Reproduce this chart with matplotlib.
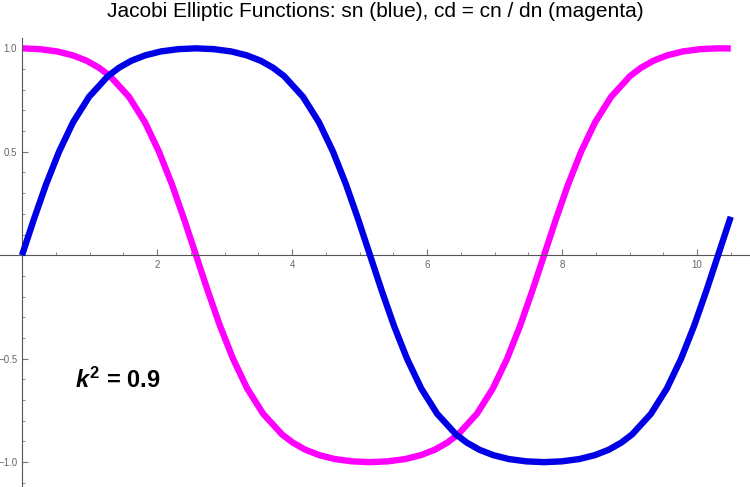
import matplotlib
matplotlib.use("Agg")
import matplotlib.pyplot as plt
from matplotlib.ticker import MultipleLocator

plt.rcParams["font.family"] = ["Liberation Sans", "DejaVu Sans"]
plt.rcParams["mathtext.fontset"] = "custom"
plt.rcParams["mathtext.it"] = "Liberation Sans:bold:italic"
plt.rcParams["mathtext.bf"] = "Liberation Sans:bold"
plt.rcParams["mathtext.rm"] = "Liberation Sans:bold"

# sn(u | k^2 = 0.9)
sn_x = [0, .176, .356, .548, .757, .994, 1.274, 1.436, 1.620, 1.825, 2.057, 2.313, 2.578,
        2.843, 3.099, 3.331, 3.536, 3.720, 3.882, 4.162, 4.399, 4.608, 4.800, 4.980, 5.156,
        5.332, 5.512, 5.704, 5.913, 6.150, 6.430, 6.592, 6.776, 6.981, 7.213, 7.469, 7.734,
        7.999, 8.255, 8.487, 8.692, 8.876, 9.038, 9.318, 9.555, 9.764, 9.956, 10.136, 10.312,
        10.5]
sn_y = [0, .174, .342, .5, .643, .766, .866, .906, .940, .966, .985, .996, 1,
        .996, .985, .966, .940, .906, .866, .766, .643, .5, .342, .174, 0,
        -.174, -.342, -.5, -.643, -.766, -.866, -.906, -.940, -.966, -.985, -.996, -1,
        -.996, -.985, -.966, -.940, -.906, -.866, -.766, -.643, -.5, -.342, -.174, 0,
        .186]

# cd = cn / dn
cd_x = [0, .265, .521, .753, .958, 1.142, 1.304, 1.584, 1.821, 2.030, 2.222, 2.402, 2.578,
        2.754, 2.934, 3.126, 3.335, 3.572, 3.852, 4.014, 4.198, 4.403, 4.635, 4.891, 5.156,
        5.421, 5.677, 5.909, 6.114, 6.298, 6.460, 6.740, 6.977, 7.186, 7.378, 7.558, 7.734,
        7.910, 8.090, 8.282, 8.491, 8.728, 9.008, 9.170, 9.354, 9.559, 9.791, 10.047, 10.312,
        10.5]
cd_y = [1, .996, .985, .966, .940, .906, .866, .766, .643, .5, .342, .174, 0,
        -.174, -.342, -.5, -.643, -.766, -.866, -.906, -.940, -.966, -.985, -.996, -1,
        -.996, -.985, -.966, -.940, -.906, -.866, -.766, -.643, -.5, -.342, -.174, 0,
        .174, .342, .5, .643, .766, .866, .906, .940, .966, .985, .996, 1,
        .9995]

fig = plt.figure(figsize=(7.5, 4.87), dpi=100)
ax = fig.add_axes([0.0, 0.0, 1.0, 0.922])

ax.plot(sn_x, sn_y, color="#0000e6", lw=4.6, solid_capstyle="butt",
        solid_joinstyle="round", zorder=3)
ax.plot(cd_x, cd_y, color="#ff00ff", lw=4.6, solid_capstyle="butt",
        solid_joinstyle="round", zorder=2)

ax.set_xlim(-0.326, 10.785)
ax.set_ylim(-1.12, 1.05)

for side in ("top", "right"):
    ax.spines[side].set_visible(False)
ax.spines["left"].set_position("zero")
ax.spines["bottom"].set_position("zero")
for side in ("left", "bottom"):
    ax.spines[side].set_color("#555555")
    ax.spines[side].set_linewidth(0.8)

ax.xaxis.set_minor_locator(MultipleLocator(0.5))
ax.yaxis.set_minor_locator(MultipleLocator(0.1))
ax.set_xticks([2, 4, 6, 8, 10])
ax.set_yticks([-1.0, -0.5, 0.5, 1.0])
ax.set_yticklabels(["\u22121.0", "\u22120.5", "0.5", "1.0"])
ax.tick_params(which="both", direction="in", colors="#777777",
               labelsize=7, labelcolor="#666666")
ax.tick_params(which="major", length=4, width=0.8)
ax.tick_params(which="minor", length=2, width=0.6)

ax.text(0.79, -0.64, r"$k^{\mathbf{2}}$ = 0.9", fontsize=17, fontweight="bold")

fig.suptitle("Jacobi Elliptic Functions: sn (blue), cd = cn / dn (magenta)",
             fontsize=15, y=0.995)

fig.savefig("out.png", dpi=100)
plt.close(fig)
